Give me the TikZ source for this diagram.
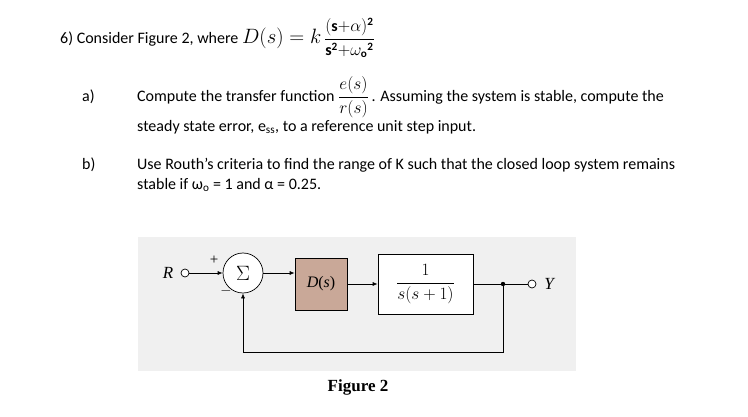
\documentclass[tikz,border=0pt]{standalone}
\usepackage{fontspec}
\setmainfont{Carlito}
\newfontfamily\figfont{Liberation Serif}
\usetikzlibrary{arrows.meta}
\begin{document}
\begin{tikzpicture}[x=1pt,y=-1pt,
  txt/.style={anchor=west,inner sep=0pt,font=\fontsize{16}{19}\selectfont},
  blk/.style={draw,line width=0.7pt,inner sep=0pt,font=\figfont\fontsize{16}{18}\selectfont},
  ln/.style={line width=0.7pt,-{Latex[length=5pt,width=4pt]}},
  plain/.style={line width=0.7pt},
  port/.style={draw,circle,minimum size=8pt,inner sep=0pt,line width=0.7pt,fill=white}]
\useasboundingbox (0,0) rectangle (748,417);
\fill[white] (0,0) rectangle (748,417);
\node[txt] (t1) at (60,38) {6) Consider Figure 2, where {\fontsize{20}{22}\selectfont$D(s)=k$}\,$\displaystyle\frac{\mathbf{(s{+}\alpha)^2}}{\mathbf{s^2{+}\omega_o{}^2}}$};
\node[txt] (a) at (82,97) {a)};
\node[txt] (a1) at (137,97) {Compute the transfer function $\displaystyle\frac{e(s)}{r(s)}$\,. Assuming the system is stable, compute the};
\node[txt] (a2) at (137,127) {steady state error, e\textsubscript{ss}, to a reference unit step input.};
\node[txt] (b) at (82,165) {b)};
\node[txt] (b1) at (137,165) {Use Routh’s criteria to find the range of K such that the closed loop system remains};
\node[txt] (b2) at (137,185) {stable if ω\textsubscript{o} = 1 and α = 0.25.};
\fill[gray!12] (138,237) rectangle (576,371);
\node[blk,circle,minimum size=40pt,fill=white,font=\fontsize{22}{24}\selectfont] (sum) at (243,273) {$\Sigma$};
\node[blk,fill={rgb,255:red,201;green,168;blue,152},minimum width=52pt,minimum height=52pt] (D) at (321,284) {\textit{D}(\textit{s})};
\node[blk,fill=white,minimum width=95pt,minimum height=60pt] (G) at (425.5,284) {$\displaystyle\frac{1}{s(s+1)}$};
\node[port] (r) at (185,273) {};
\node[font=\figfont\itshape\fontsize{17}{19}\selectfont] (R) at (168,273) {R};
\node[port] (y) at (532,284) {};
\node[font=\figfont\itshape\fontsize{17}{19}\selectfont] (Y) at (549,284) {Y};
\coordinate (j) at (503,284);
\fill (j) circle (2.2pt);
\coordinate (fb) at (503,352);
\coordinate (fb2) at (243,352);
\draw[ln] (r) -- (sum);
\draw[ln] (sum.east) -- (sum.east -| D.west);
\draw[ln] (D) -- (G);
\draw[plain] (G) -- (y);
\draw[ln] (j) -- (fb) -- (fb2) -- (sum);
\node[font=\figfont\fontsize{15}{17}\selectfont] (plus) at (214,260) {+};
\node[font=\figfont\fontsize{15}{17}\selectfont] (minus) at (226,291) {$-$};
\node[font=\figfont\bfseries\fontsize{17}{20}\selectfont] (cap) at (358,387) {Figure 2};
\end{tikzpicture}
\end{document}
